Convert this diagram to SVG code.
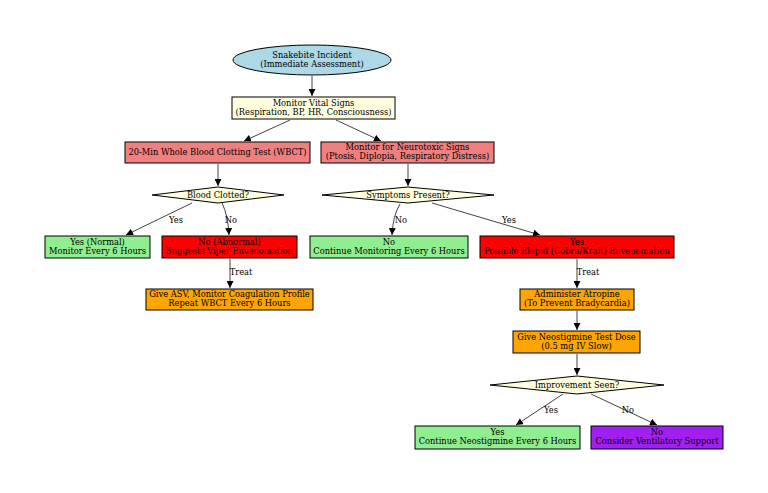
<svg xmlns="http://www.w3.org/2000/svg" width="768" height="493" viewBox="0 0 768 493">
<defs>
<marker id="ah" viewBox="0 0 10 10" refX="10" refY="5" markerWidth="7" markerHeight="7" markerUnits="userSpaceOnUse" orient="auto">
<path d="M0,0 L10,5 L0,10 z" fill="#000"/>
</marker>
</defs>
<style>
text{font-family:"DejaVu Serif","Liberation Serif",serif;font-size:8.3px;fill:#000;text-anchor:middle}
.n{stroke:#000;stroke-width:1}
.e{fill:none;stroke:#444;stroke-width:1;marker-end:url(#ah)}
.lbl{font-size:8.3px}
</style>
<rect width="768" height="493" fill="#fff"/>
<g id="connectors">
<path class="e" d="M312,76 L312,96"/>
<path class="e" d="M290,120 L244,141"/>
<path class="e" d="M336,120 L381,141"/>
<path class="e" d="M218,164 L218,186"/>
<path class="e" d="M408,164 L408,186"/>
<path class="e" d="M192,203 L126,235"/>
<path class="e" d="M222,203 Q228,215 229,235"/>
<path class="e" d="M230,259 L230,288"/>
<path class="e" d="M400,204 Q393,215 392,235"/>
<path class="e" d="M432,203 L540,235"/>
<path class="e" d="M577,259 L577,288"/>
<path class="e" d="M577,311 L577,330"/>
<path class="e" d="M577,354 L577,375"/>
<path class="e" d="M563,394 L516,425"/>
<path class="e" d="M591,394 L657,425"/>
<text class="lbl" x="176" y="223">Yes</text>
<text class="lbl" x="231" y="223">No</text>
<text class="lbl" x="241" y="275">Treat</text>
<text class="lbl" x="401" y="223">No</text>
<text class="lbl" x="509" y="223">Yes</text>
<text class="lbl" x="588" y="275">Treat</text>
<text class="lbl" x="551" y="413">Yes</text>
<text class="lbl" x="628" y="413">No</text>
</g>
<g id="start">
<ellipse class="n" cx="312" cy="60" rx="79" ry="15" fill="#add8e6"/>
<text x="312" y="58">Snakebite Incident</text>
<text x="312" y="67">(Immediate Assessment)</text>
</g>
<g id="vitals">
<rect class="n" x="232" y="97" width="163" height="22" fill="#ffffe0"/>
<text x="313.5" y="106">Monitor Vital Signs</text>
<text x="313.5" y="115">(Respiration, BP, HR, Consciousness)</text>
</g>
<g id="wbct">
<rect class="n" x="125" y="142" width="185" height="21" fill="#f08080"/>
<text x="217.5" y="155">20-Min Whole Blood Clotting Test (WBCT)</text>
</g>
<g id="neuro">
<rect class="n" x="321" y="142" width="173" height="21" fill="#f08080"/>
<text x="407.5" y="150">Monitor for Neurotoxic Signs</text>
<text x="407.5" y="159">(Ptosis, Diplopia, Respiratory Distress)</text>
</g>
<g id="clotted">
<polygon class="n" points="152,195 218,187 284,195 218,203" fill="#ffffe0"/>
<text x="218" y="198">Blood Clotted?</text>
</g>
<g id="symptoms">
<polygon class="n" points="322,195 408,187 494,195 408,203" fill="#ffffe0"/>
<text x="408" y="198">Symptoms Present?</text>
</g>
<g id="normal">
<rect class="n" x="45" y="236" width="105" height="22" fill="#90ee90"/>
<text x="97.5" y="245">Yes (Normal)</text>
<text x="97.5" y="254">Monitor Every 6 Hours</text>
</g>
<g id="abnormal">
<rect class="n" x="162" y="236" width="135" height="22" fill="#ff0000"/>
<text x="229.5" y="245">No (Abnormal)</text>
<text x="229.5" y="254">Suggests Viper Envenomation</text>
</g>
<g id="contmon">
<rect class="n" x="310" y="236" width="158" height="22" fill="#90ee90"/>
<text x="389" y="245">No</text>
<text x="389" y="254">Continue Monitoring Every 6 Hours</text>
</g>
<g id="elapid">
<rect class="n" x="480" y="236" width="194" height="22" fill="#ff0000"/>
<text x="577" y="245">Yes</text>
<text x="577" y="254">Possible Elapid (Cobra/Krait) Envenomation</text>
</g>
<g id="asv">
<rect class="n" x="146" y="289" width="167" height="21" fill="#ffa500"/>
<text x="229.5" y="297">Give ASV, Monitor Coagulation Profile</text>
<text x="229.5" y="306">Repeat WBCT Every 6 Hours</text>
</g>
<g id="atropine">
<rect class="n" x="520" y="289" width="114" height="21" fill="#ffa500"/>
<text x="577" y="297">Administer Atropine</text>
<text x="577" y="306">(To Prevent Bradycardia)</text>
</g>
<g id="neostigmine">
<rect class="n" x="513" y="331" width="127" height="22" fill="#ffa500"/>
<text x="576.5" y="340">Give Neostigmine Test Dose</text>
<text x="576.5" y="349">(0.5 mg IV Slow)</text>
</g>
<g id="improvement">
<polygon class="n" points="490,385 577,376 664,385 577,394" fill="#ffffe0"/>
<text x="577" y="388">Improvement Seen?</text>
</g>
<g id="contneo">
<rect class="n" x="415" y="426" width="165" height="23" fill="#90ee90"/>
<text x="497.5" y="435">Yes</text>
<text x="497.5" y="444">Continue Neostigmine Every 6 Hours</text>
</g>
<g id="vent">
<rect class="n" x="591" y="426" width="132" height="23" fill="#a020f0"/>
<text x="657" y="435">No</text>
<text x="657" y="444">Consider Ventilatory Support</text>
</g>
</svg>
